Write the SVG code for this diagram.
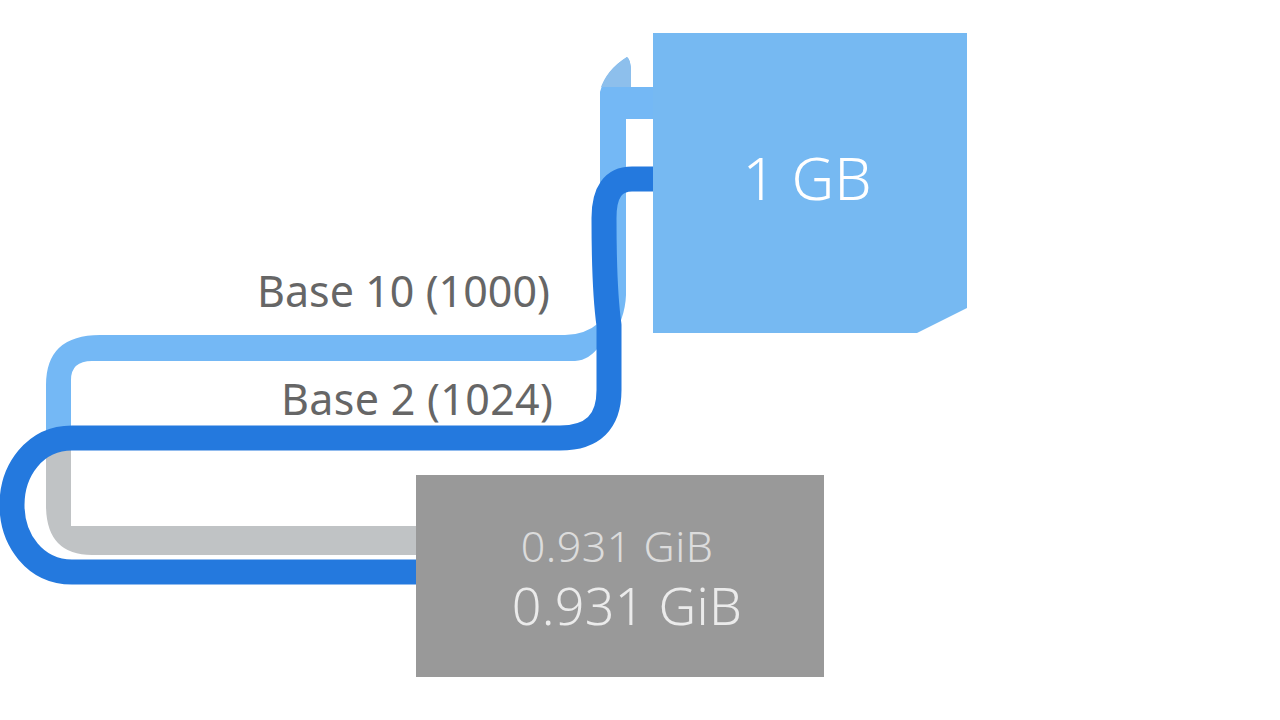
<svg xmlns="http://www.w3.org/2000/svg" width="1280" height="720" viewBox="0 0 1280 720">
<style>
.c{fill:none;stroke-linejoin:round}
.t{font-family:"Noto Sans","Open Sans",sans-serif}
.l{font-size:43px;fill:#666666;letter-spacing:0.1px}
</style>
<rect width="1280" height="720" fill="#ffffff"/>
<g id="connectors">
<path id="base10" fill="#74b8f5" d="M600 92 Q606 70 627 57 Q631 60 631 72 V87 H653 V119 H626 V295 Q625 320 610 340 L600 345 Q590 360 575 361 H92 Q71 361 71 380 V450 H46 V385 Q46 335 100 335 H565 Q585 335 600 322 Z"/>
<path id="base10-tip" d="M600 90 Q606 70 627 57 Q631 60 631 72 V87 H601 Z" fill="#8dbfec"/>
<path id="gray" fill="#c0c3c5" d="M46 448 H71 V526 H416 V555 H92 Q46 555 46 505 Z"/>
<path id="base2" class="c" stroke="#2479de" stroke-width="25" d="M653 179 H632 Q604 179 604 218 Q604 290 609 325 V390 Q609 438 560 438 H72 C35 438 12 470 12 505 C12 540 35 572 72 572 H416"/>
</g>
<g id="node-1gb">
<path d="M653 33 H967 V308 L917 333 H653 Z" fill="#76b9f2"/>
<text class="t" x="807" y="200" font-size="59" fill="#ffffff" font-weight="300" text-anchor="middle">1 GB</text>
</g>
<g id="node-gib">
<rect x="416" y="475" width="408" height="202" fill="#999999"/>
<text class="t" x="617" y="562" font-size="43" fill="#dcdcdc" font-weight="300" text-anchor="middle" letter-spacing="0.5">0.931 GiB</text>
<text class="t" x="627" y="625" font-size="52" fill="#ebebeb" font-weight="300" text-anchor="middle" letter-spacing="0.3">0.931 GiB</text>
</g>
<g id="labels">
<text class="t l" x="550" y="307" text-anchor="end" textLength="293">Base 10 (1000)</text>
<text class="t l" x="553" y="415" text-anchor="end" textLength="272">Base 2 (1024)</text>
</g>
</svg>
